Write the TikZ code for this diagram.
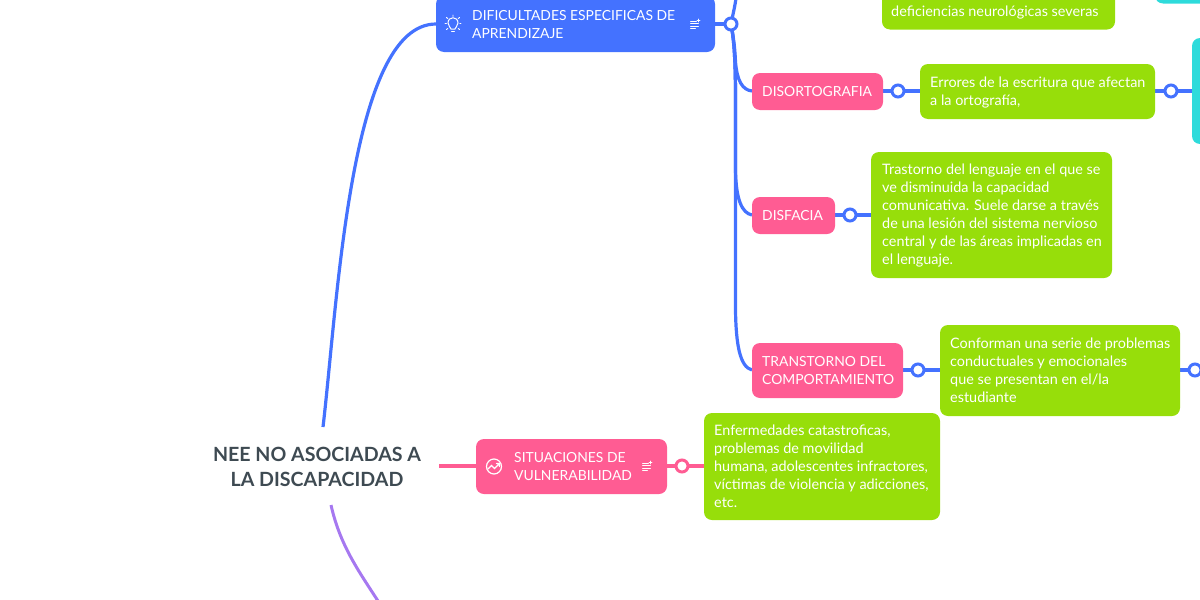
\documentclass[tikz,border=0pt]{standalone}
\usepackage{fontspec}
\setmainfont{Lato}
\definecolor{mblue}{HTML}{4472FF}
\definecolor{mpink}{HTML}{FF5C93}
\definecolor{mgreen}{HTML}{97DE0A}
\definecolor{mcyan}{HTML}{2EDBDB}
\definecolor{mpurple}{HTML}{A678F0}
\definecolor{mtitle}{HTML}{3E4A52}
\tikzset{
 lab/.style={anchor=west,inner sep=0pt,text=white,font=\fontsize{14.4}{18}\selectfont,align=left},
 capslab/.style={lab,font=\fontsize{13.9}{18}\selectfont},
 rbox/.style={rounded corners=8pt,fill=#1},
 blueline/.style={draw=mblue,line width=3.2pt},
 pinkline/.style={draw=mpink,line width=3.2pt},
 hollow/.style={circle,draw=#1,fill=white,line width=3pt,minimum size=12pt,inner sep=0pt},
 iconline/.style={draw=white,line width=.9pt,line cap=round}
}
\newcommand{\noteicon}[2]{%
  \draw[iconline] (#1-4,#2-3) -- (#1+2,#2-3) (#1-4,#2-.5) -- (#1+4,#2-.5) (#1-4,#2+2) -- (#1+4,#2+2) (#1-4,#2+4.5) -- (#1+1,#2+4.5) (#1+4,#2-5) -- (#1+4,#2-2) (#1+2.5,#2-3.5) -- (#1+5.5,#2-3.5);
}
\begin{document}
\begin{tikzpicture}[x=1pt,y=-1pt]
\useasboundingbox (0,0) rectangle (1200,600);
\clip (0,0) rectangle (1200,600);

% root
\node[inner sep=0pt,text=mtitle,font=\fontsize{19.6}{24.5}\selectfont\bfseries,align=center] (root) at (317,467) {NEE NO ASOCIADAS A\\LA DISCAPACIDAD};
\coordinate (rootN) at (323,427);
\coordinate (rootS) at (331,505);
\coordinate (rootE) at (439,466);
\coordinate (purpleEnd) at (378,601);
\coordinate (bDif) at (436,24);
\coordinate (cDif) at (731,24);
\coordinate (upEnd) at (736,-2);

% connectors
\draw[blueline] (rootN) .. controls (338,300) and (350,24) .. (bDif);
\draw[mpurple,line width=3pt] (rootS) .. controls (340,545) and (358,570) .. (purpleEnd);
\draw[pinkline] (rootE) -- (476,466);
\draw[blueline] (715,24) -- (cDif);
\draw[blueline] (cDif) .. controls (733,14) and (735,6) .. (upEnd);
\coordinate (jDis) at (752,91);
\coordinate (jDisf) at (752,215);
\coordinate (jTra) at (752,370);
\draw[blueline] (cDif) .. controls (734,40) and (735,50) .. (735.5,62) .. controls (737,80) and (742,90) .. (jDis);
\draw[blueline] (cDif) .. controls (734,40) and (735.5,60) .. (735.5,100) -- (735.5,170) .. controls (736,200) and (742,213) .. (jDisf);
\draw[blueline] (cDif) .. controls (734,40) and (735.5,60) .. (735.5,100) -- (735.5,310) .. controls (736,345) and (740,367) .. (jTra);
\coordinate (edgeA) at (1201,91);
\coordinate (edgeB) at (1201,370);
\draw[blueline] (883,91) -- (920,91);
\draw[blueline] (1155,91) -- (edgeA);
\draw[blueline] (835,215) -- (871,215);
\draw[blueline] (903,370) -- (940,370);
\draw[blueline] (1180,370) -- (edgeB);
\draw[pinkline] (667,466) -- (704,466);

% boxes
\fill[rbox=mblue] (436,-4) rectangle (715,52);
\node[capslab] (tDif) at (472,25) {DIFICULTADES ESPECIFICAS DE\\APRENDIZAJE};
\fill[rbox=mgreen] (882,-40) rectangle (1115,29.5);
\node[lab] (tTop) at (891,13) {deficiencias neurológicas severas};
\fill[rbox=mcyan] (1155,-40) rectangle (1230,3.5);
\fill[rbox=mcyan] (1192,38) rectangle (1230,144);
\fill[rbox=mpink] (752,73) rectangle (883,110);
\node[capslab] (tDis) at (762,92) {DISORTOGRAFIA};
\fill[rbox=mgreen] (920,64) rectangle (1155,119);
\node[lab] (tErr) at (930,93) {Errores de la escritura que afectan\\a la ortografía,};
\fill[rbox=mpink] (752,197) rectangle (835,234);
\node[capslab] (tDisf) at (762,216) {DISFACIA};
\fill[rbox=mgreen] (871,152) rectangle (1112,278);
\node[lab] (tTras) at (882,216) {Trastorno del lenguaje en el que se\\ve disminuida la capacidad\\comunicativa. Suele darse a través\\de una lesión del sistema nervioso\\central y de las áreas implicadas en\\el lenguaje.};
\fill[rbox=mpink] (752,343) rectangle (903,398);
\node[capslab] (tTra) at (762,371) {TRANSTORNO DEL\\COMPORTAMIENTO};
\fill[rbox=mgreen] (940,325) rectangle (1180,416);
\node[lab] (tCon) at (950,370) {Conforman una serie de problemas\\conductuales y emocionales\\que se presentan en el/la\\estudiante};
\fill[rbox=mpink] (476,439) rectangle (667,494);
\node[capslab] (tSit) at (514,467) {SITUACIONES DE\\VULNERABILIDAD};
\fill[rbox=mgreen] (704,413) rectangle (940,520);
\node[lab] (tEnf) at (714,466.5) {Enfermedades catastroficas,\\problemas de movilidad\\humana, adolescentes infractores,\\víctimas de violencia y adicciones,\\etc.};

% circles
\node[hollow=mblue] (c1) at (731,24) {};
\node[hollow=mblue] (c2) at (898,91) {};
\node[hollow=mblue] (c3) at (1171,91) {};
\node[hollow=mblue] (c4) at (850,215) {};
\node[hollow=mblue] (c5) at (918,370) {};
\node[hollow=mblue] (c6) at (1195,370) {};
\node[hollow=mpink] (c7) at (682,466) {};

% icons
\noteicon{694.5}{24}
\noteicon{646.5}{466}
\draw[iconline,line width=1pt] (451,29) .. controls (451,27) and (448,26.5) .. (448,23) .. controls (448,16) and (458,16) .. (458,23) .. controls (458,26.5) and (455,27) .. (455,29) -- cycle;
\draw[iconline] (451.5,31.5) -- (454.5,31.5)
 (453,15) -- (453,16.5) (446.5,17.5) -- (447.7,18.5) (459.5,17.5) -- (458.3,18.5)
 (445,23.5) -- (446.3,23.5) (461,23.5) -- (459.7,23.5) (446.5,29.5) -- (447.7,28.5) (459.5,29.5) -- (458.3,28.5);
\draw[iconline,line width=1.2pt] (494,466.5) circle (7.5pt);
\draw[iconline,line width=1.2pt] (488,469) -- (491.5,465.5) -- (494.5,468.5) -- (499.5,463.5) (496.5,463.5) -- (499.5,463.5) -- (499.5,466.5);
\end{tikzpicture}
\end{document}
